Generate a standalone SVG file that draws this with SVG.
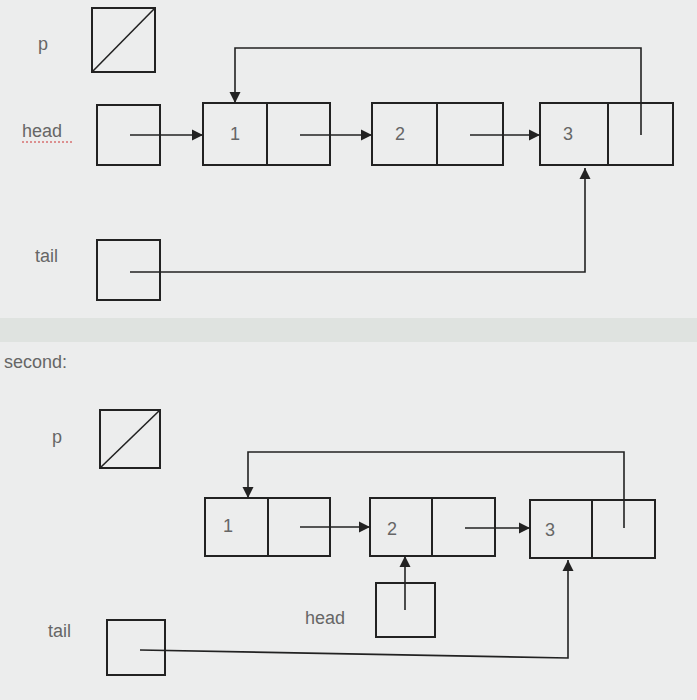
<svg xmlns="http://www.w3.org/2000/svg" width="697" height="700" viewBox="0 0 697 700">
<style>
.b{fill:none;stroke:#222;stroke-width:2}
.l{fill:none;stroke:#222;stroke-width:1.6}
.t{font-family:"Liberation Sans",Arial,sans-serif;font-size:18px;fill:#666}
.u{stroke:#c33;stroke-width:1;stroke-dasharray:2 2}
</style>
<defs><marker id="a" viewBox="0 0 10 10" refX="10" refY="5" markerWidth="7" markerHeight="7" orient="auto"><path d="M0,0L10,5L0,10z" fill="#222"/></marker></defs>
<rect width="697" height="700" fill="#eceded"/>
<rect y="318" width="697" height="24" fill="#dfe3e0"/>
<g id="top-p"><text class="t" x="38" y="50">p</text><rect class="b" x="92" y="8" width="63" height="64"/><line class="l" x1="92" y1="72" x2="155" y2="8"/></g>
<g id="top-head"><text class="t" x="22" y="137">head</text><line class="u" x1="22" y1="142" x2="74" y2="142"/><rect class="b" x="97" y="105" width="63" height="60"/></g>
<g id="top-n1"><rect class="b" x="203" y="103" width="64" height="62"/><rect class="b" x="267" y="103" width="63" height="62"/><text class="t" x="235" y="140" text-anchor="middle">1</text></g>
<g id="top-n2"><rect class="b" x="372" y="103" width="65" height="62"/><rect class="b" x="437" y="103" width="66" height="62"/><text class="t" x="400" y="140" text-anchor="middle">2</text></g>
<g id="top-n3"><rect class="b" x="540" y="103" width="68" height="62"/><rect class="b" x="608" y="103" width="65" height="62"/><text class="t" x="568" y="140" text-anchor="middle">3</text></g>
<g id="top-tail"><text class="t" x="35" y="262">tail</text><rect class="b" x="97" y="240" width="63" height="60"/></g>
<text class="t" x="4" y="368">second:</text>
<g id="bot-p"><text class="t" x="52" y="443">p</text><rect class="b" x="100" y="410" width="60" height="58"/><line class="l" x1="100" y1="468" x2="160" y2="410"/></g>
<g id="bot-n1"><rect class="b" x="205" y="498" width="63" height="58"/><rect class="b" x="268" y="498" width="62" height="58"/><text class="t" x="228" y="532" text-anchor="middle">1</text></g>
<g id="bot-n2"><rect class="b" x="370" y="498" width="62" height="58"/><rect class="b" x="432" y="498" width="63" height="58"/><text class="t" x="392" y="535" text-anchor="middle">2</text></g>
<g id="bot-n3"><rect class="b" x="530" y="500" width="62" height="58"/><rect class="b" x="592" y="500" width="63" height="58"/><text class="t" x="550" y="536" text-anchor="middle">3</text></g>
<g id="bot-head"><text class="t" x="305" y="624">head</text><rect class="b" x="376" y="583" width="59" height="54"/></g>
<g id="bot-tail"><text class="t" x="48" y="637">tail</text><rect class="b" x="107" y="620" width="58" height="55"/></g>
<g id="connectors">
<path class="l" d="M130,135H203" marker-end="url(#a)"/>
<path class="l" d="M300,135H372" marker-end="url(#a)"/>
<path class="l" d="M470,135H540" marker-end="url(#a)"/>
<path class="l" d="M641,135V48H235V103" marker-end="url(#a)"/>
<path class="l" d="M130,272H585V168" marker-end="url(#a)"/>
<path class="l" d="M300,527H370" marker-end="url(#a)"/>
<path class="l" d="M465,528H530" marker-end="url(#a)"/>
<path class="l" d="M624,528V452H248V498" marker-end="url(#a)"/>
<path class="l" d="M405,610V556" marker-end="url(#a)"/>
<path class="l" d="M140,650L568,658V560" marker-end="url(#a)"/>
</g>
</svg>
